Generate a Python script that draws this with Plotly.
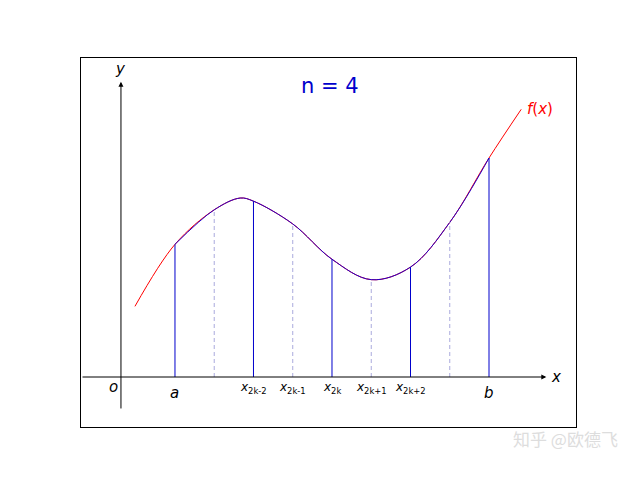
import plotly.graph_objects as go

# f(x) samples
fx_x = [0.49, 1.0, 1.5, 1.83, 2.0, 2.5, 3.0, 3.5, 4.0, 4.5, 5.0, 5.41]
fx_y = [0.90, 1.69, 2.13, 2.28, 2.24, 1.95, 1.50, 1.24, 1.40, 1.97, 2.79, 3.41]

# nodes of the Simpson partition
node_x = [1.0, 1.5, 2.0, 2.5, 3.0, 3.5, 4.0, 4.5, 5.0]
node_y = [1.69, 2.13, 2.24, 1.95, 1.50, 1.24, 1.40, 1.97, 2.79]
node_labels = ["<i>a</i>", "", "<i>x</i><sub>2k-2</sub>", "<i>x</i><sub>2k-1</sub>", "<i>x</i><sub>2k</sub>",
               "<i>x</i><sub>2k+1</sub>", "<i>x</i><sub>2k+2</sub>", "", "<i>b</i>"]

x0 = 0.312
xr = [-0.197, 6.108]
yr = [-0.637, 4.064]

fig = go.Figure()

# red curve f(x)
fig.add_trace(go.Scatter(x=fx_x, y=fx_y, mode="lines", line=dict(color="red", width=1, shape="spline", smoothing=1.0)))
# blue approximating parabolas
fig.add_trace(go.Scatter(x=fx_x[1:-1], y=fx_y[1:-1], mode="lines",
                         line=dict(color="#2200cc", width=1, shape="spline", smoothing=1.0)))

# vertical lines at the nodes
solid_x, solid_y, dash_x, dash_y = [], [], [], []
for i, (xv, yv) in enumerate(zip(node_x, node_y)):
    if i % 2 == 0:
        solid_x += [xv, xv, None]
        solid_y += [0, yv, None]
    else:
        dash_x += [xv, xv, None]
        dash_y += [0, yv, None]
fig.add_trace(go.Scatter(x=solid_x, y=solid_y, mode="lines", line=dict(color="#0000cc", width=1)))
fig.add_trace(go.Scatter(x=dash_x, y=dash_y, mode="lines", line=dict(color="#aaaadd", width=1, dash="4px,3px")))

# axes with arrows
fig.add_annotation(x=5.73, y=0, ax=xr[0], ay=0, xref="x", yref="y", axref="x", ayref="y",
                   showarrow=True, arrowhead=2, arrowsize=1, arrowwidth=1, arrowcolor="black", text="")
fig.add_annotation(x=x0, y=3.76, ax=x0, ay=-0.42, xref="x", yref="y", axref="x", ayref="y",
                   showarrow=True, arrowhead=2, arrowsize=1, arrowwidth=1, arrowcolor="black", text="")

font = dict(family="DejaVu Sans", color="black")
fig.add_annotation(x=5.85, y=0, text="<i>x</i>", showarrow=False, font=dict(size=15, **font))
fig.add_annotation(x=x0, y=3.92, text="<i>y</i>", showarrow=False, font=dict(size=15, **font))
fig.add_annotation(x=x0 - 0.1, y=-0.13, text="<i>o</i>", showarrow=False, font=dict(size=15, **font))
fig.add_annotation(x=5.65, y=3.41, text="<i>f</i>(<i>x</i>)", showarrow=False, font=dict(size=15, family="DejaVu Sans", color="red"))
fig.add_annotation(x=2.98, y=3.71, text="n = 4", showarrow=False, font=dict(size=21, family="DejaVu Sans", color="#0000cc"))
for xv, lab in zip(node_x, node_labels):
    big = lab in ("<i>a</i>", "<i>b</i>")
    fig.add_annotation(x=xv, y=-0.21 if big else -0.14, text=lab, showarrow=False,
                       font=dict(size=15 if big else 12, **font))

fig.add_annotation(x=0.978, y=-0.07, xref="paper", yref="paper", xanchor="center",
                   text="知乎 @欧德飞", showarrow=False,
                   font=dict(size=17, family="Noto Sans CJK SC", color="#dddddd"))

fig.update_xaxes(range=xr, showticklabels=False, showgrid=False, zeroline=False, ticks="",
                 showline=True, mirror=True, linecolor="black", linewidth=1)
fig.update_yaxes(range=yr, showticklabels=False, showgrid=False, zeroline=False, ticks="",
                 showline=True, mirror=True, linecolor="black", linewidth=1)
fig.update_layout(width=640, height=480, margin=dict(l=73, r=72, t=50, b=61),
                  showlegend=False, plot_bgcolor="white", paper_bgcolor="white")

fig.write_html("out.html")
